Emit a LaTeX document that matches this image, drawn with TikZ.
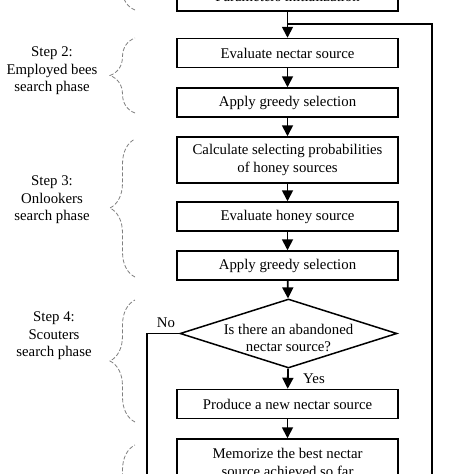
\documentclass[tikz,border=0pt]{standalone}
\usepackage{fontspec}
\setmainfont{Liberation Serif}
\usetikzlibrary{arrows.meta}
\usetikzlibrary{shapes.geometric}
\usetikzlibrary{decorations.pathreplacing}

\begin{document}
\begin{tikzpicture}[x=1pt,y=-1pt]
\tikzstyle{arrow} = [line width=1.8pt,-{Triangle[length=11pt,width=11pt]}]
\tikzstyle{line} = [line width=1.5pt]
\tikzstyle{process} = [rectangle,draw=black,line width=1.5pt,minimum width=221pt,
  minimum height=29pt,inner sep=0pt,align=center,font=\fontsize{14.8}{18}\selectfont]
\tikzstyle{decision} = [diamond,draw=black,line width=1.5pt,minimum width=217pt,
  minimum height=69pt,inner sep=0pt]
\tikzstyle{txt} = [align=center,inner sep=0pt,font=\fontsize{14.8}{17.5}\selectfont]
\tikzstyle{phase} = [draw=gray,line width=0.8pt,dash pattern=on 4pt off 2pt,
  decorate,decoration={brace,amplitude=25pt}]
\useasboundingbox (0,0) rectangle (474,474);
\fill[white] (0,0) rectangle (474,474);
% boxes
\node[process] (init) at (287.5,-3.5) {Parameters initialization};
\node[process] (evalnectar) at (287.5,53) {Evaluate nectar source};
\node[process] (greedy1) at (287.5,102.5) {Apply greedy selection};
\node[process,minimum height=46pt] (prob) at (287.5,160) {Calculate selecting probabilities\\of honey sources};
\node[process] (evalhoney) at (287.5,216.5) {Evaluate honey source};
\node[process] (greedy2) at (287.5,265.5) {Apply greedy selection};
\node[decision] (aband) at (288.5,333.5) {};
\node[txt] (abandtxt) at (288.5,338) {Is there an abandoned\\nectar source?};
\node[process] (newsrc) at (287.5,404) {Produce a new nectar source};
\node[process,minimum height=46pt] (memo) at (287.5,462) {Memorize the best nectar\\source achieved so far};
\coordinate (loopin) at (287.5,24);
\coordinate (loopend) at (432,490);
\coordinate (noend) at (147,490);
% phases
\node[txt] (step2) at (52,71) {Step 2:\\Employed bees\\search phase};
\node[txt] (step3) at (52,200) {Step 3:\\Onlookers\\search phase};
\node[txt] (step4) at (54,336) {Step 4:\\Scouters\\search phase};
\draw[phase] (135,10) -- (135,-70);
\draw[phase] (135,113) -- (135,38);
\draw[phase] (135,277) -- (135,139);
\draw[phase] (135,422) -- (135,300);
\draw[phase] (135,560) -- (135,445);
% labels
\node[txt] (no) at (166,323) {No};
\node[txt] (yes) at (314,379) {Yes};
% connectors
\draw[arrow] (init) -- (evalnectar);
\draw[arrow] (evalnectar) -- (greedy1);
\draw[arrow] (greedy1) -- (prob);
\draw[arrow] (prob) -- (evalhoney);
\draw[arrow] (evalhoney) -- (greedy2);
\draw[arrow] (greedy2) -- (aband);
\draw[arrow] (aband) -- (newsrc);
\draw[arrow] (newsrc) -- (memo);
\draw[line] (loopend) |- (loopin);
\draw[line] (aband.west) -| (noend);
\end{tikzpicture}
\end{document}
